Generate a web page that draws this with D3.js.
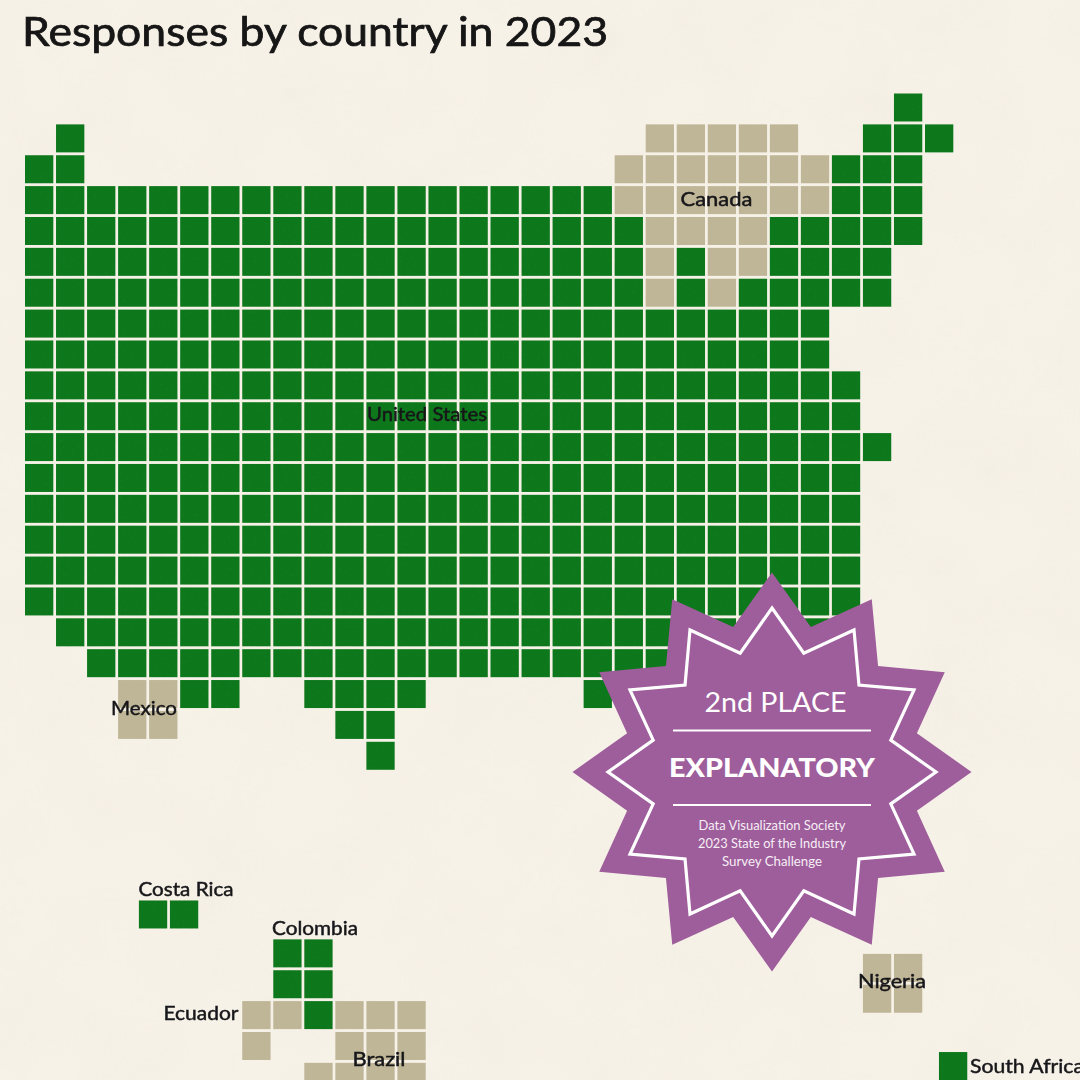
<!DOCTYPE html>
<html>
<head>
<meta charset="utf-8">
<script src="https://cdn.jsdelivr.net/npm/d3@7"></script>
<style>
html, body { margin: 0; padding: 0; background: #f7f2e8; overflow: hidden; }
svg { display: block; }
text { font-family: Lato, sans-serif; }
</style>
</head>
<body>
<div id="chart"></div>
<script>
// tile maps: g = green, t = tan, . = empty
var northAmericaRows = [
  "............................g.",
  ".g..................ttttt..ggg",
  "gg.................tttttttggg.",
  "gggggggggggggggggggtttttttggg.",
  "ggggggggggggggggggggttttggggg.",
  "ggggggggggggggggggggtgttgggg..",
  "ggggggggggggggggggggtgtggggg..",
  "gggggggggggggggggggggggggg....",
  "gggggggggggggggggggggggggg....",
  "ggggggggggggggggggggggggggg...",
  "ggggggggggggggggggggggggggg...",
  "gggggggggggggggggggggggggggg..",
  "ggggggggggggggggggggggggggg...",
  "ggggggggggggggggggggggggggg...",
  "ggggggggggggggggggggggggggg...",
  "ggggggggggggggggggggggggggg...",
  "ggggggggggggggggggggggggggg...",
  ".ggggggggggggggggggggggggg....",
  "..ggggggggggggggggggggggg.....",
  "...ttgg..gggg.....g...........",
  "...tt.....gg..................",
  "...........g.................."
];
var costaRicaRows = ["gg"];
var southAmericaRows = [
  ".gg...",
  ".gg...",
  "ttgttt",
  "t..ttt",
  "..tttt"
];
var nigeriaRows = ["tt", "tt"];
var southAfricaRows = ["g"];

var titleText = "Responses by country in 2023";
var countryNames = ["Canada", "United States", "Mexico", "Costa Rica", "Colombia", "Ecuador", "Brazil", "Nigeria", "South Africa"];
var badgeLines = ["2nd PLACE", "EXPLANATORY"];
var badgeSmallLines = ["Data Visualization Society", "2023 State of the Industry", "Survey Challenge"];

var width = 1080, height = 1080;
var tileW = 28.3, tileH = 28;
var colours = { g: "#0e771c", t: "#bfb597" };

var x = d3.scaleLinear().domain([0, 29]).range([25, 925]);
var y = d3.scaleLinear().domain([0, 31]).range([93.5, 1050.5]);

var svg = d3.select("#chart").append("svg")
  .attr("width", width).attr("height", height);

var defs = svg.append("defs");

var paper = defs.append("filter").attr("id", "paper")
  .attr("x", 0).attr("y", 0).attr("width", "100%").attr("height", "100%");
paper.append("feTurbulence").attr("type", "fractalNoise")
  .attr("baseFrequency", 0.012).attr("numOctaves", 4).attr("seed", 7);
paper.append("feColorMatrix").attr("type", "matrix")
  .attr("values", "0 0 0 0 0.55  0 0 0 0 0.48  0 0 0 0 0.35  0.5 0 0 0 -0.18");

var grain = defs.append("filter").attr("id", "grain")
  .attr("x", 0).attr("y", 0).attr("width", "100%").attr("height", "100%");
grain.append("feTurbulence").attr("type", "fractalNoise")
  .attr("baseFrequency", 0.35).attr("numOctaves", 2).attr("seed", 3);
grain.append("feColorMatrix").attr("type", "matrix")
  .attr("values", "0 0 0 0 1  0 0 0 0 1  0 0 0 0 0.9  1.2 0 0 0 -0.55");

defs.append("filter").attr("id", "soft")
  .append("feGaussianBlur").attr("stdDeviation", 0.45);

// paper
svg.append("rect").attr("width", width).attr("height", height).attr("fill", "#f7f2e8");
svg.append("rect").attr("width", width).attr("height", height)
  .attr("filter", "url(#paper)").attr("opacity", 0.2);

var artwork = svg.append("g").attr("filter", "url(#soft)");

// each tile map with its place on the grid, in grid units
var tileBlocks = [
  { rows: northAmericaRows, col: 0, row: 0 },
  { rows: costaRicaRows, col: 3.67, row: 26.14 },
  { rows: southAmericaRows, col: 7, row: 27.4 },
  { rows: nigeriaRows, col: 27, row: 27.87 },
  { rows: southAfricaRows, col: 29.45, row: 31.05 }
];

var tiles = [];
tileBlocks.forEach(function(block) {
  block.rows.forEach(function(line, r) {
    line.split("").forEach(function(kind, c) {
      if (kind !== ".") tiles.push({ col: block.col + c, row: block.row + r, kind: kind });
    });
  });
});

artwork.append("g").selectAll("rect").data(tiles).enter().append("rect")
  .attr("x", function(d) { return x(d.col); })
  .attr("y", function(d) { return y(d.row); })
  .attr("width", tileW)
  .attr("height", tileH)
  .attr("fill", function(d) { return colours[d.kind]; });

// speckle on the tiles
artwork.append("rect").attr("width", width).attr("height", height)
  .attr("filter", "url(#grain)").attr("opacity", 0.04);

artwork.append("text")
  .attr("x", 22).attr("y", 46)
  .attr("font-size", 40).attr("font-weight", 400)
  .attr("fill", "#141414").attr("stroke", "#141414").attr("stroke-width", 0.7)
  .attr("textLength", 586).attr("lengthAdjust", "spacingAndGlyphs")
  .text(titleText);

// label anchors: centre x, baseline y, width
var labelPlace = {
  "Canada": [716.5, 206, 72],
  "United States": [427, 421, 120],
  "Mexico": [144, 715, 66],
  "Costa Rica": [186, 896, 95],
  "Colombia": [315, 935, 86],
  "Ecuador": [201, 1020, 75],
  "Brazil": [379, 1066, 53],
  "Nigeria": [892, 988, 68],
  "South Africa": [1027, 1073, 114]
};

artwork.append("g").selectAll("text").data(countryNames).enter().append("text")
  .attr("x", function(d) { return labelPlace[d][0]; })
  .attr("y", function(d) { return labelPlace[d][1]; })
  .attr("text-anchor", "middle")
  .attr("font-size", 18.5)
  .attr("font-weight", 400)
  .attr("fill", "#16161a")
  .attr("stroke", "#16161a")
  .attr("stroke-width", 0.45)
  .attr("textLength", function(d) { return labelPlace[d][2]; })
  .attr("lengthAdjust", "spacingAndGlyphs")
  .text(function(d) { return d; });

// badge
var cx = 772, cy = 772;
var badge = svg.append("g").attr("transform", "translate(" + cx + "," + cy + ")");

function starPath(outer, inner) {
  var pts = d3.range(24).map(function(i) {
    return [i * Math.PI / 12, i % 2 === 0 ? outer : inner];
  });
  return d3.lineRadial().curve(d3.curveLinearClosed)(pts);
}

badge.append("path").attr("d", starPath(199.5, 150)).attr("fill", "#9e5d9b");
badge.append("path").attr("d", starPath(164, 123))
  .attr("fill", "none").attr("stroke", "#fff").attr("stroke-width", 3.2)
  .attr("stroke-linejoin", "miter").attr("stroke-miterlimit", 8);

badge.selectAll("line").data([-41.5, 33]).enter().append("line")
  .attr("x1", -99).attr("x2", 99)
  .attr("y1", function(d) { return d; })
  .attr("y2", function(d) { return d; })
  .attr("stroke", "#fff").attr("stroke-width", 2);

badge.append("text")
  .attr("x", 3.5).attr("y", -60.3)
  .attr("text-anchor", "middle").attr("font-size", 27).attr("font-weight", 400)
  .attr("fill", "#fff")
  .attr("textLength", 142).attr("lengthAdjust", "spacingAndGlyphs")
  .text(badgeLines[0]);

badge.append("text")
  .attr("x", 0).attr("y", 4.7)
  .attr("text-anchor", "middle").attr("font-size", 26).attr("font-weight", 900)
  .attr("fill", "#fff")
  .attr("textLength", 206).attr("lengthAdjust", "spacingAndGlyphs")
  .text(badgeLines[1]);

badge.selectAll("text.small").data(badgeSmallLines).enter().append("text")
  .attr("class", "small")
  .attr("x", 0)
  .attr("y", function(d, i) { return 58 + i * 18; })
  .attr("text-anchor", "middle").attr("font-size", 12.6)
  .attr("fill", "#f6eef5")
  .attr("textLength", function(d, i) { return [147, 148, 100][i]; })
  .attr("lengthAdjust", "spacingAndGlyphs")
  .text(function(d) { return d; });
</script>
</body>
</html>
